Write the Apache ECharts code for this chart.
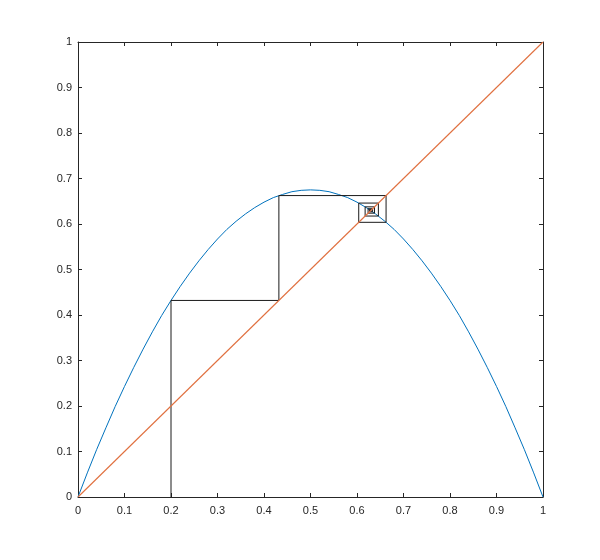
<!DOCTYPE html>
<html>
<head>
<meta charset="utf-8">
<script src="https://cdn.jsdelivr.net/npm/echarts@6/dist/echarts.min.js"></script>
<style>
html,body{margin:0;padding:0;background:#fff;}
#chart{width:600px;height:560px;}
</style>
</head>
<body>
<div id="chart"></div>
<script>
// Logistic curve samples (x, y)
var curveX = [0,0.02,0.04,0.06,0.08,0.10,0.12,0.14,0.16,0.18,0.20,0.22,0.24,0.26,0.28,0.30,0.32,0.34,0.36,0.38,0.40,0.42,0.44,0.46,0.48,0.50,
              0.52,0.54,0.56,0.58,0.60,0.62,0.64,0.66,0.68,0.70,0.72,0.74,0.76,0.78,0.80,0.82,0.84,0.86,0.88,0.90,0.92,0.94,0.96,0.98,1.00];
var curveY = [0,0.053,0.104,0.152,0.199,0.243,0.285,0.325,0.363,0.399,0.432,0.463,0.492,0.519,0.544,0.567,0.588,0.606,0.622,0.636,0.648,0.658,0.665,0.671,0.674,0.675,
              0.674,0.671,0.665,0.658,0.648,0.636,0.622,0.606,0.588,0.567,0.544,0.519,0.492,0.463,0.432,0.399,0.363,0.325,0.285,0.243,0.199,0.152,0.104,0.053,0];
// Diagonal y = x endpoints
var diagX = [0, 1];
var diagY = [0, 1];
// Cobweb iterates
var iterates = [0.2,0.432,0.6625,0.6037,0.6460,0.6175,0.6377,0.6238,0.6336,0.6268,0.6316,0.6282,0.6306,0.6289,0.6301,0.6293];
var tickLabels = ['0','0.1','0.2','0.3','0.4','0.5','0.6','0.7','0.8','0.9','1'];

var curveData = curveX.map(function(x,i){return [x, curveY[i]];});
var diagData = diagX.map(function(x,i){return [x, diagY[i]];});
var cobweb = [[iterates[0], 0]];
for (var i = 0; i < iterates.length - 1; i++) {
  cobweb.push([iterates[i], iterates[i+1]]);
  cobweb.push([iterates[i+1], iterates[i+1]]);
}

var axisColor = '#262626';
function fmt(v){ var k = Math.round(v*10); return tickLabels[k] !== undefined ? tickLabels[k] : ''; }
function mkAxis(pos, showLabel){
  return {
    type:'value', min:0, max:1, interval:0.1, position:pos,
    axisLine:{show:true, onZero:false, lineStyle:{color:axisColor, width:1}},
    axisTick:{show:true, inside:true, length:4, lineStyle:{color:axisColor, width:1}},
    axisLabel:{show:showLabel, color:axisColor, fontSize:11, fontFamily:'Liberation Sans, Arial, sans-serif',
               margin: (pos==='bottom'?8:6), formatter: fmt},
    splitLine:{show:false}
  };
}
var chart = echarts.init(document.getElementById('chart'), null, {renderer:'canvas'});
chart.setOption({
  backgroundColor:'#ffffff',
  animation:false,
  grid:{left:78, right:57, top:42, bottom:63, containLabel:false},
  xAxis:[mkAxis('bottom', true), mkAxis('top', false)],
  yAxis:[mkAxis('left', true), mkAxis('right', false)],
  series:[
    {type:'line', data:curveData, showSymbol:false, smooth:false, lineStyle:{color:'#0072BD', width:1}, z:2},
    {type:'line', data:cobweb, showSymbol:false, lineStyle:{color:'#1a1a1a', width:1}, z:2},
    {type:'line', data:diagData, showSymbol:false, lineStyle:{color:'#E0703F', width:1.1}, z:3}
  ]
});
</script>
</body>
</html>
